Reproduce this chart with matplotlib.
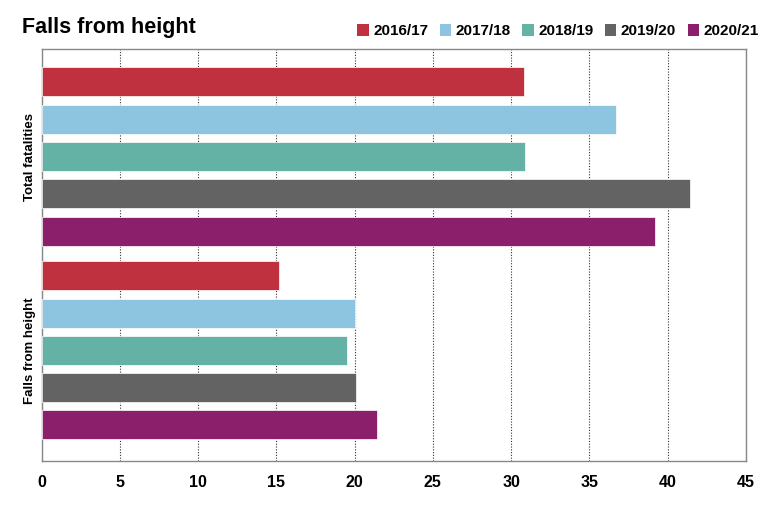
import matplotlib
matplotlib.use("Agg")
import matplotlib.pyplot as plt
from matplotlib.patches import Patch
import numpy as np

plt.rcParams['font.family'] = ['Liberation Sans', 'DejaVu Sans']

categories = ["Total fatalities", "Falls from height"]
years = ["2016/17", "2017/18", "2018/19", "2019/20", "2020/21"]
colors = ["#C0313F", "#8DC4E0", "#64B1A6", "#636363", "#8C1F6B"]
values = {
    "2016/17": [30.8, 15.2],
    "2017/18": [36.7, 20.0],
    "2018/19": [30.9, 19.5],
    "2019/20": [41.4, 20.1],
    "2020/21": [39.2, 21.4],
}
xticks = [0, 5, 10, 15, 20, 25, 30, 35, 40, 45]

fig = plt.figure(figsize=(7.68, 5.08), dpi=100)
W, H = 768, 508
left, right, top, bottom = 41.5, 746, 49, 461
ax = fig.add_axes([left / W, 1 - bottom / H, (right - left) / W, (bottom - top) / H])

step = 0.1925
bh = 0.150
group_pos = np.arange(len(categories))
for i, (yr, col) in enumerate(zip(years, colors)):
    offs = (i - 2) * step
    ax.barh(group_pos + offs, values[yr], height=bh, color=col,
            edgecolor="#ffffff", linewidth=0.5, zorder=3)

ax.set_xlim(0, 45)
ax.set_ylim(1.571, -0.555)
ax.set_xticks(xticks)
ax.set_xticklabels([str(t) for t in xticks], fontsize=11.5, fontweight="bold")
ax.tick_params(axis="x", length=0, pad=10)
ax.set_yticks(group_pos)
ax.set_yticklabels(categories, rotation=90, va="center", fontsize=9.5, fontweight="bold")
ax.tick_params(axis="y", length=0, pad=4)
ax.grid(axis="x", linestyle=(0, (1, 1.5)), color="#333333", linewidth=0.8, zorder=1)
for s in ax.spines.values():
    s.set_color("#888888")
    s.set_linewidth(1.0)

fig.text(22 / W, 1 - 28 / H, "Falls from height", fontsize=15.5, fontweight="bold",
         va="center", ha="left")

handles = [Patch(facecolor=c, edgecolor="none") for c in colors]
leg = fig.legend(handles, years, loc="center right", bbox_to_anchor=(759 / W, 1 - 31 / H),
                 ncol=5, frameon=False, handlelength=0.75, handleheight=0.8,
                 handletextpad=0.3, columnspacing=0.75, borderaxespad=0, borderpad=0,
                 prop={"size": 11, "weight": "bold"})

fig.savefig("out.png", dpi=100)
